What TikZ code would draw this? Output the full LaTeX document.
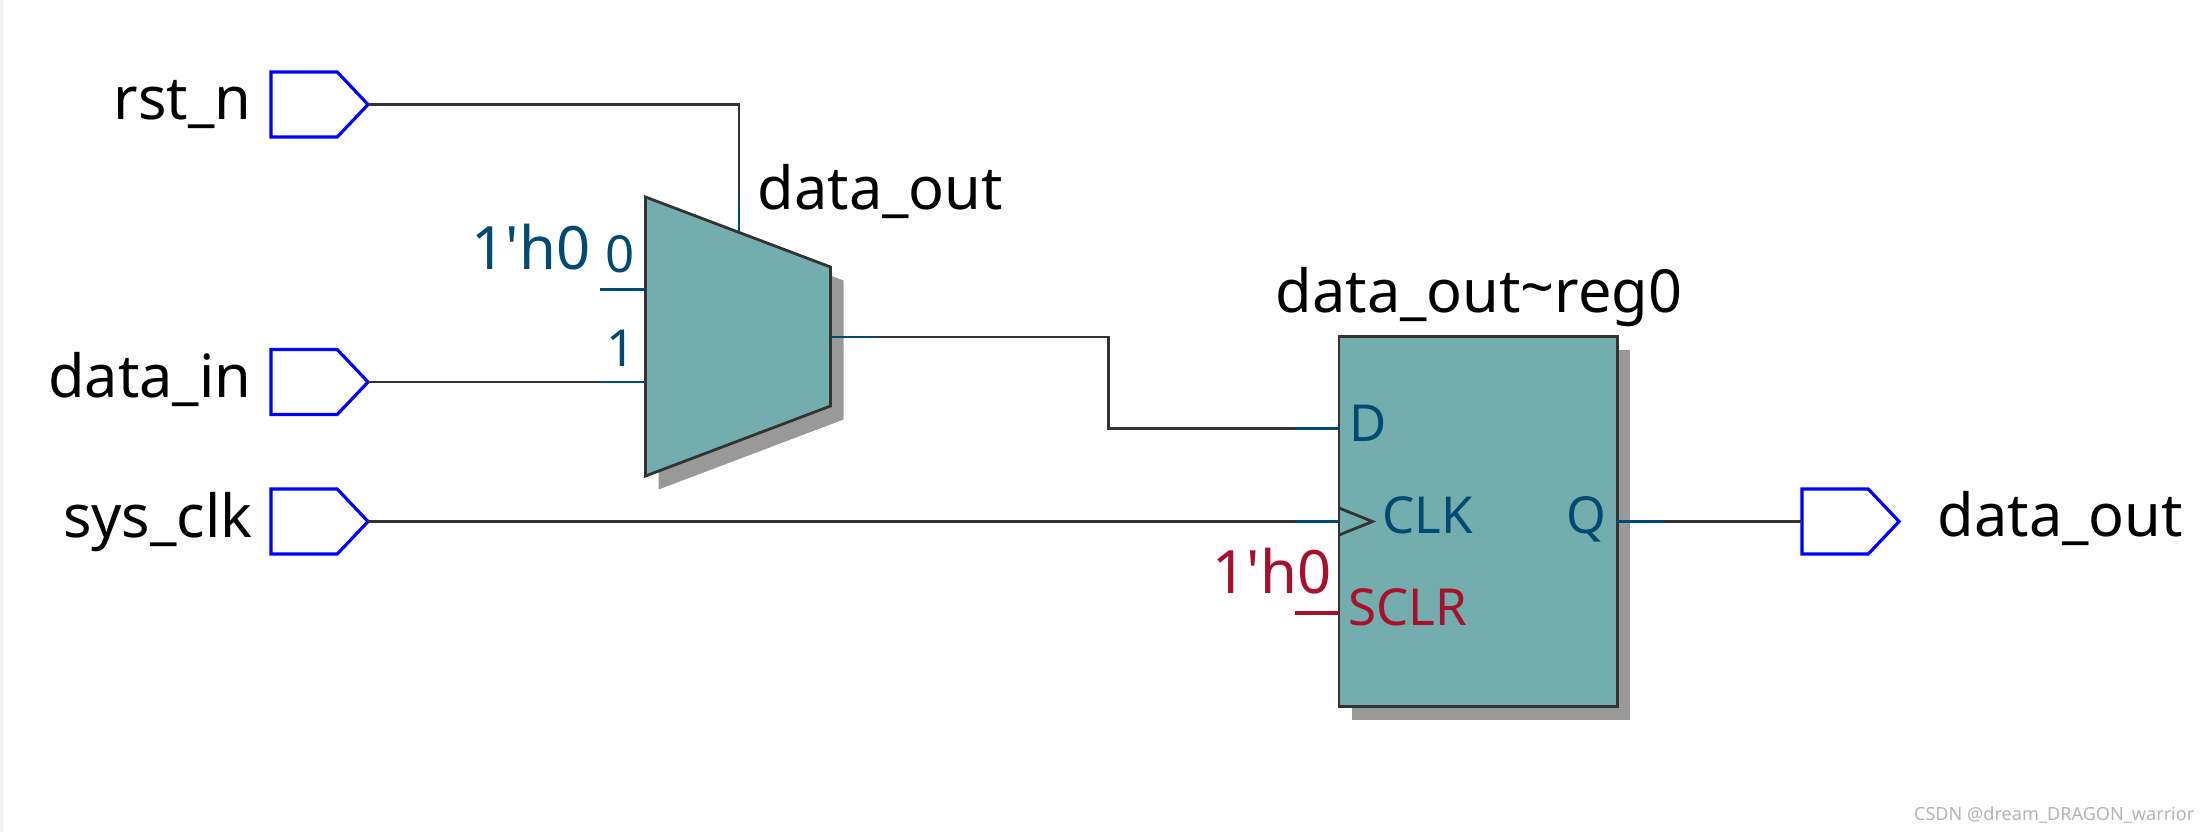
\documentclass[tikz,border=0pt]{standalone}
\usepackage{fontspec}
\setmainfont{Noto Sans}
\usetikzlibrary{shapes.symbols,shadows}
\definecolor{blockteal}{HTML}{74ADAE}
\definecolor{shadowgray}{HTML}{999999}
\definecolor{wiregray}{HTML}{333333}
\definecolor{pinblue}{HTML}{004A73}
\definecolor{pinred}{HTML}{A8102E}
\definecolor{edgegray}{HTML}{F0F0F0}
\definecolor{markgray}{HTML}{B4B4B4}
\tikzset{
  port/.style={signal, signal to=east, signal pointer angle=93, draw=blue, line width=.9pt, fill=white, minimum width=.97cm, minimum height=.65cm, inner sep=0pt, outer sep=0pt, anchor=west},
  wire/.style={draw=wiregray, line width=.8pt},
  stub/.style={draw=pinblue, line width=.8pt},
  redstub/.style={draw=pinred, line width=1pt},
  block/.style={draw=wiregray, line width=.8pt, fill=blockteal, inner sep=0pt, outer sep=0pt, drop shadow={shadow xshift=.13cm, shadow yshift=-.135cm, fill=shadowgray, opacity=1}},
  lab/.style={font=\fontsize{16.9pt}{20pt}\selectfont, text=black, inner sep=0pt},
  const/.style={font=\fontsize{17pt}{18pt}\selectfont, inner sep=0pt},
  pinlab/.style={font=\fontsize{14.5pt}{16pt}\selectfont, text=pinblue, inner sep=0pt},
}
\begin{document}
\begin{tikzpicture}[x=.01cm,y=-.01cm]
\useasboundingbox (0,0) rectangle (2210,832);
\fill [edgegray] (0,0) rectangle (3,832);
% input and output ports
\node [port] (rstport) at (271,104.5) {};
\node [port] (dataport) at (271,382) {};
\node [port] (clkport) at (271,521.5) {};
\node [port] (outport) at (1802,521.5) {};
\node [lab, anchor=base east] (rstlab) at (252,119) {rst\_n};
\node [lab, anchor=base east] (datalab) at (252,397) {data\_in};
\node [lab, anchor=base east] (clklab) at (253,537) {sys\_clk};
\node [lab, anchor=base west] (outlab) at (1937,536) {data\_out};
% mux
\draw [block] (645.5,197) -- (830.5,267) -- (830.5,406) -- (645.5,476) -- cycle;
\node [lab, anchor=base west] (muxlab) at (757,209) {data\_out};
\coordinate (muxsel) at (739,232);
\coordinate (muxsela) at (739,197);
\coordinate (muxzero) at (645.5,289.5);
\coordinate (muxzeroa) at (600,289.5);
\coordinate (muxone) at (645.5,382);
\coordinate (muxonea) at (600,382);
\coordinate (muxout) at (830.5,337);
\coordinate (muxouta) at (877,337);
\node [const, text=pinblue, anchor=base west] (zeroval) at (471,269) {1\textquotesingle h0};
\node [pinlab, anchor=base west] (zeropin) at (605,272) {0};
\node [pinlab, anchor=base west] (onepin) at (606,366) {1};
% register
\node [block, rectangle, minimum width=2.78cm, minimum height=3.695cm] (reg) at (1478,521.3) {};
\node [lab, anchor=base west] (reglab) at (1275,312) {data\_out\raisebox{.12ex}{\textasciitilde}reg0};
\coordinate (regd) at (1339,428.5);
\coordinate (regda) at (1294.5,428.5);
\coordinate (regclk) at (1339,521.5);
\coordinate (regclka) at (1294.5,521.5);
\coordinate (regsclr) at (1339,613);
\coordinate (regsclra) at (1294.5,613);
\coordinate (regq) at (1617,521.5);
\coordinate (regqa) at (1663,521.5);
\coordinate (clktop) at (1339,508);
\coordinate (clktip) at (1372.5,521.5);
\coordinate (clkbot) at (1339,535);
\node [pinlab, anchor=base west] (dpin) at (1349,441) {D};
\node [pinlab, anchor=base west] (clkpin) at (1382,533.5) {CLK};
\node [pinlab, anchor=base east] (qpin) at (1607,533.5) {Q};
\node [pinlab, text=pinred, anchor=base west] (sclrpin) at (1348,625.5) {SCLR};
\node [const, text=pinred, anchor=base west] (sclrval) at (1212,593) {1\textquotesingle h0};
% wires
\draw [wire] (rstport.east) -| (muxsel);
\draw [wire] (dataport.east) -- (muxone);
\draw [wire] (clkport.east) -- (regclk);
\draw [wire] (muxout) -| (1108.5,428.5) -- (regd);
\draw [wire] (regq) -- (outport.west);
\draw [stub] (muxsela) -- (muxsel);
\draw [stub] (muxzeroa) -- (muxzero);
\draw [stub] (muxonea) -- (muxone);
\draw [stub] (muxout) -- (muxouta);
\draw [stub] (regda) -- (regd);
\draw [stub] (regclka) -- (regclk);
\draw [stub] (regq) -- (regqa);
\draw [redstub] (regsclra) -- (regsclr);
\draw [wire] (clktop) -- (clktip) -- (clkbot);
\node [font=\fontsize{5.15pt}{6pt}\selectfont, text=markgray, anchor=base east, inner sep=0pt] (mark) at (2195,820) {CSDN @dream\_DRAGON\_warrior};
\end{tikzpicture}
\end{document}
